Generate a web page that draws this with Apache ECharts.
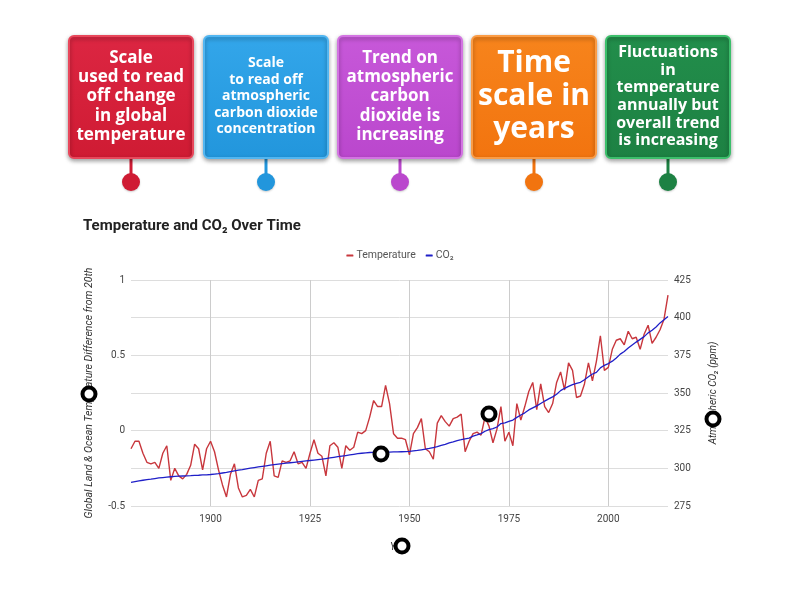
<!DOCTYPE html>
<html>
<head>
<meta charset="utf-8">
<title>Temperature and CO2 Over Time</title>
<script src="https://cdn.jsdelivr.net/npm/echarts@6/dist/echarts.min.js"></script>
<style>
  html, body { margin: 0; padding: 0; background: #ffffff; }
  #chart { width: 800px; height: 600px; }
</style>
</head>
<body>
<div id="chart"></div>
<script>
// global land & ocean temperature anomaly, 1880 .. 2015
const startYear = 1880;
const tempValues = [
  -0.12, -0.07, -0.07, -0.15, -0.21, -0.22, -0.21, -0.25, -0.15, -0.10,
  -0.33, -0.25, -0.30, -0.32, -0.29, -0.23, -0.09, -0.12, -0.26, -0.12,
  -0.07, -0.14, -0.26, -0.36, -0.44, -0.29, -0.22, -0.38, -0.44, -0.43,
  -0.39, -0.44, -0.33, -0.32, -0.15, -0.07, -0.30, -0.31, -0.20, -0.21,
  -0.20, -0.14, -0.22, -0.21, -0.25, -0.15, -0.06, -0.15, -0.17, -0.30,
  -0.10, -0.08, -0.11, -0.25, -0.10, -0.13, -0.11, -0.01, -0.02, 0.00,
  0.09, 0.20, 0.16, 0.16, 0.30, 0.18, -0.02, -0.05, -0.05, -0.06,
  -0.16, -0.02, 0.02, 0.08, -0.12, -0.14, -0.19, 0.05, 0.10, 0.06,
  0.03, 0.08, 0.09, 0.11, -0.14, -0.07, -0.02, -0.01, -0.03, 0.09,
  0.03, -0.08, 0.01, 0.16, -0.07, -0.01, -0.10, 0.18, 0.07, 0.16,
  0.26, 0.32, 0.14, 0.31, 0.16, 0.12, 0.18, 0.32, 0.39, 0.27,
  0.45, 0.40, 0.22, 0.23, 0.31, 0.45, 0.33, 0.46, 0.63, 0.40,
  0.42, 0.54, 0.60, 0.61, 0.57, 0.66, 0.61, 0.62, 0.54, 0.64,
  0.70, 0.58, 0.62, 0.67, 0.74, 0.90
];
// atmospheric CO2 (ppm), same years
const co2Values = [
  290.7, 291.2, 291.7, 292.1, 292.5, 292.8, 293.2, 293.6, 293.9, 294.2,
  294.4, 294.6, 294.8, 294.9, 295.0, 295.1, 295.3, 295.4, 295.6, 295.7,
  295.9, 296.2, 296.5, 296.9, 297.3, 297.8, 298.3, 298.8, 299.2, 299.7,
  300.1, 300.5, 300.9, 301.3, 301.7, 302.1, 302.5, 302.8, 303.1, 303.4,
  303.7, 304.0, 304.3, 304.6, 304.9, 305.2, 305.5, 305.8, 306.1, 306.5,
  306.9, 307.3, 307.7, 308.1, 308.5, 308.9, 309.3, 309.7, 310.0, 310.3,
  310.5, 310.6, 310.7, 310.7, 310.8, 310.8, 310.9, 310.9, 311.0, 311.1,
  311.3, 311.6, 311.9, 312.3, 312.7, 313.2, 313.8, 314.4, 315.2,
  315.97, 316.91, 317.64, 318.45, 318.99, 319.62, 320.04, 321.38, 322.16, 323.04,
  324.62, 325.68, 326.32, 327.45, 329.68, 330.18, 331.11, 332.04, 333.83, 335.40,
  336.84, 338.75, 340.11, 341.45, 343.05, 344.65, 346.12, 347.42, 349.19, 351.57,
  353.12, 354.39, 355.61, 356.45, 357.10, 358.83, 360.82, 362.61, 363.73, 366.70,
  368.38, 369.55, 371.14, 373.28, 375.80, 377.52, 379.80, 381.90, 383.79, 385.60,
  387.43, 389.90, 391.65, 393.85, 396.52, 398.65, 400.83
];
const yearTicks = [1900, 1925, 1950, 1975, 2000];

// label cards above the chart
const cardTexts = [
  'Scale\nused to read\noff change\nin global\ntemperature',
  'Scale\nto read off\natmospheric\ncarbon dioxide\nconcentration',
  'Trend on\natmospheric\ncarbon\ndioxide is\nincreasing',
  'Time\nscale in\nyears',
  'Fluctuations\nin\ntemperature\nannually but\noverall trend\nis increasing'
];
const cardStyles = [
  { x: 69, top: '#dc2642', bottom: '#cf1b33', edge: '#e8475b', size: 17, lh: 19.2 },
  { x: 204, top: '#33a6ea', bottom: '#2296dc', edge: '#52b6f1', size: 14, lh: 16.5 },
  { x: 338, top: '#c758d9', bottom: '#ba47cd', edge: '#d374e2', size: 17, lh: 19.2 },
  { x: 472, top: '#f7841c', bottom: '#f2740f', edge: '#fb9c45', size: 30, lh: 33 },
  { x: 606, top: '#228e4b', bottom: '#1d8143', edge: '#3cbf6b', size: 16, lh: 17.7 }
];
// answer spots of the labelling activity
const spots = [[89, 394], [381, 454], [489, 414], [402, 546], [713, 419]];

const years = tempValues.map((v, i) => startYear + i);

function buildGraphics() {
  const els = [];
  cardStyles.forEach((c, i) => {
    const cx = c.x + 62;
    els.push({
      type: 'line', z: 10,
      shape: { x1: cx, y1: 156, x2: cx, y2: 176 },
      style: { stroke: c.bottom, lineWidth: 3 }
    });
    els.push({
      type: 'circle', z: 10,
      shape: { cx: cx, cy: 182, r: 9 },
      style: { fill: c.bottom, shadowBlur: 2, shadowOffsetY: 1, shadowColor: 'rgba(0,0,0,0.2)' }
    });
    els.push({
      type: 'rect', z: 11,
      shape: { x: c.x, y: 36, width: 124, height: 122, r: 5 },
      style: {
        fill: new echarts.graphic.LinearGradient(0, 0, 0, 1, [
          { offset: 0, color: c.top }, { offset: 1, color: c.bottom }
        ]),
        stroke: c.edge, lineWidth: 2,
        shadowBlur: 4, shadowOffsetY: 2, shadowColor: 'rgba(0,0,0,0.35)'
      }
    });
    els.push({
      type: 'text', z: 12,
      x: cx, y: 96.5,
      style: {
        text: cardTexts[i], fill: '#ffffff',
        font: 'bold ' + c.size + 'px "Open Sans"',
        lineHeight: c.lh, align: 'center', verticalAlign: 'middle'
      }
    });
  });
  spots.forEach(p => {
    els.push({
      type: 'circle', z: 50,
      shape: { cx: p[0], cy: p[1], r: 6.5 },
      style: { fill: '#ffffff', stroke: '#000000', lineWidth: 4 }
    });
  });
  return els;
}

const chart = echarts.init(document.getElementById('chart'), null, { renderer: 'canvas' });
chart.setOption({
  backgroundColor: '#ffffff',
  animation: false,
  textStyle: { fontFamily: 'Roboto' },
  title: {
    text: 'Temperature and CO\u2082 Over Time',
    left: 83, top: 219, padding: 0,
    textStyle: { fontFamily: 'Roboto', fontSize: 15, fontWeight: 'bold', color: '#222222' }
  },
  legend: {
    top: 250, left: 'center', padding: 0,
    icon: 'roundRect', itemWidth: 7, itemHeight: 2, itemGap: 10,
    textStyle: { fontSize: 10.5, color: '#555555', padding: [0, 0, 0, -2] },
    data: ['Temperature', 'CO\u2082']
  },
  grid: { left: 131, right: 132, top: 280, bottom: 94 },
  xAxis: {
    type: 'value', min: 1880, max: 2015,
    name: 'Year', nameLocation: 'middle', nameGap: 36,
    nameTextStyle: { fontSize: 10, color: '#333333', fontStyle: 'italic' },
    axisLine: { show: false },
    axisTick: { show: false, customValues: yearTicks },
    axisLabel: {
      customValues: yearTicks, fontSize: 10, color: '#444444', margin: 8,
      formatter: v => String(v)
    },
    splitLine: { show: true, lineStyle: { color: '#cccccc', width: 1 } }
  },
  yAxis: [
    {
      type: 'value', position: 'left', min: -0.5, max: 1, interval: 0.25,
      name: 'Global Land & Ocean Temperature Difference from 20th',
      nameLocation: 'middle', nameGap: 36, nameRotate: 90,
      nameTextStyle: { fontSize: 10.5, color: '#333333', fontStyle: 'italic' },
      axisLine: { show: false }, axisTick: { show: false },
      axisLabel: {
        fontSize: 10, color: '#444444', margin: 6,
        formatter: v => (Math.round(v * 4) % 2 === 0 ? String(v) : '')
      },
      splitLine: { lineStyle: { color: '#dddddd', width: 1 } }
    },
    {
      type: 'value', position: 'right', min: 275, max: 425, interval: 25,
      name: 'Atmospheric CO\u2082 (ppm)',
      nameLocation: 'middle', nameGap: 40, nameRotate: 90,
      nameTextStyle: { fontSize: 10, color: '#333333', fontStyle: 'italic' },
      axisLine: { show: false }, axisTick: { show: false },
      axisLabel: { fontSize: 10, color: '#444444', margin: 6 },
      splitLine: { show: false }
    }
  ],
  series: [
    {
      name: 'Temperature', type: 'line', yAxisIndex: 0,
      showSymbol: false, color: '#c8373d',
      lineStyle: { width: 1.4 },
      data: years.map((y, i) => [y, tempValues[i]])
    },
    {
      name: 'CO\u2082', type: 'line', yAxisIndex: 1,
      showSymbol: false, color: '#1f1fc8',
      lineStyle: { width: 1.3 },
      data: years.map((y, i) => [y, co2Values[i]])
    }
  ],
  graphic: buildGraphics()
});
</script>
</body>
</html>
